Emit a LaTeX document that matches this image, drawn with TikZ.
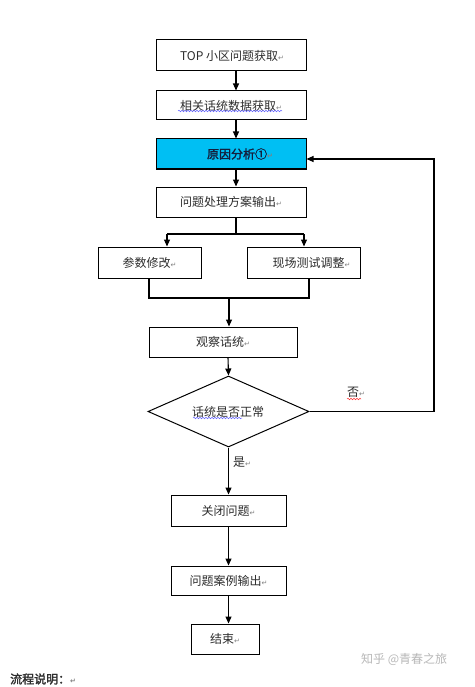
\documentclass[tikz,border=0pt]{standalone}
\usepackage{fontspec}
\setmainfont{Noto Sans CJK SC}[AutoFakeBold=2]
\newfontfamily\dvfont{DejaVu Sans}
\usetikzlibrary{arrows.meta,shapes.geometric,decorations.pathmorphing}
\definecolor{boxcyan}{RGB}{0,191,243}
\definecolor{txt}{RGB}{45,45,45}
\newcommand\pmark{{\dvfont\fontsize{7}{7}\selectfont\color{gray}↵}}
\tikzset{
  box/.style={draw=black,line width=1pt,rectangle,inner sep=0pt,text=txt,font=\fontsize{12}{14}\selectfont},
  conn/.style={draw=black,line width=1.1pt},
  arr/.style={conn,-{Triangle[length=7pt,width=6pt]}},
  lbl/.style={text=txt,font=\fontsize{12}{14}\selectfont,inner sep=0pt},
  wavy/.style={line width=0.5pt,decorate,decoration={snake,amplitude=0.8pt,segment length=3pt}}
}
\begin{document}
\begin{tikzpicture}[x=1pt,y=-1pt]
\useasboundingbox (0,0) rectangle (474,687);
\clip (0,0) rectangle (474,687);
\fill[white] (0,0) rectangle (474,687);
% boxes
\node[box,minimum width=150pt,minimum height=31pt] (b1) at (231,55.5) {\hspace{2pt}TOP 小区问题获取\pmark};
\node[box,minimum width=150pt,minimum height=29pt] (b2) at (231,105.5) {相关话统数据获取\pmark};
\node[box,fill=boxcyan,minimum width=150pt,minimum height=30pt] (b3) at (231,154) {\hspace{18pt}\bfseries\color[RGB]{20,30,60}原因分析①\pmark};
\node[box,minimum width=150pt,minimum height=30pt] (b4) at (231,202) {问题处理方案输出\pmark};
\node[box,minimum width=103pt,minimum height=31pt] (l) at (149.5,262.5) {参数修改\pmark};
\node[box,minimum width=113pt,minimum height=31pt] (r) at (303.5,262.5) {\hspace{16pt}现场测试调整\pmark};
\node[box,minimum width=148pt,minimum height=30pt] (obs) at (223,342) {观察话统\pmark};
\node[draw=black,line width=1pt,diamond,inner sep=0pt,minimum width=161pt,minimum height=71pt] (d) at (228.5,411.5) {};
\node[lbl] (dt) at (228,412) {话统是否正常};
\node[box,minimum width=115pt,minimum height=31pt] (c1) at (228.5,510.5) {关闭问题\pmark};
\node[box,minimum width=115pt,minimum height=29pt] (c2) at (228.5,580.5) {问题案例输出\pmark};
\node[box,minimum width=68pt,minimum height=30pt] (c3) at (225,639) {结束\pmark};
% labels
\node[lbl,anchor=west] (no) at (347,392) {否\pmark};
\node[lbl,anchor=west] (yes) at (233,462) {是\pmark};
\node[lbl,anchor=west,font=\fontsize{12}{14}\selectfont\bfseries] (note) at (10,679) {流程说明：\pmark};
\node[lbl,anchor=west,text=black!28,font=\fontsize{12}{14}\selectfont] (wm) at (361,659) {知乎 @青春之旅};
% coordinates
\coordinate (j1) at (236,234);
\coordinate (jl) at (167,234);
\coordinate (jr) at (304,234);
\coordinate (k1) at (149,298);
\coordinate (k2) at (309,298);
\coordinate (km) at (229,298);
\coordinate (back) at (434,411.5);
% connectors
\draw[arr] ([xshift=5pt]b1.south) -- ([xshift=5pt]b2.north);
\draw[arr] ([xshift=5pt]b2.south) -- ([xshift=5pt]b3.north);
\draw[arr] ([xshift=5pt]b3.south) -- ([xshift=5pt]b4.north);
\draw[conn] ([xshift=5pt]b4.south) -- (j1);
\draw[conn] (jl) -- (jr);
\draw[arr] (jl) -- (jl |- l.north);
\draw[arr] (jr) -- (jr |- r.north);
\draw[conn] (k1 |- l.south) -- (k1) -- (k2) -- (k2 |- r.south);
\draw[arr] (km) -- (km |- obs.north);
\draw[arr] ([xshift=5pt]obs.south) -- (d.north);
\draw[conn] (d.east) -- (back);
\draw[arr] (back) |- ([yshift=-5pt]b3.east);
\draw[arr] (d.south) -- (d.south |- c1.north);
\draw[arr] (c1.south) -- (c2.north);
\draw[arr] (c2.south) -- (c2.south |- c3.north);
% spell-check underlines
\draw[wavy,draw=blue!60] (178,111) -- (282,111);
\draw[wavy,draw=blue!60] (193,418) -- (242,418);
\draw[wavy,draw=red!80] (347,399) -- (361,399);
\end{tikzpicture}
\end{document}
